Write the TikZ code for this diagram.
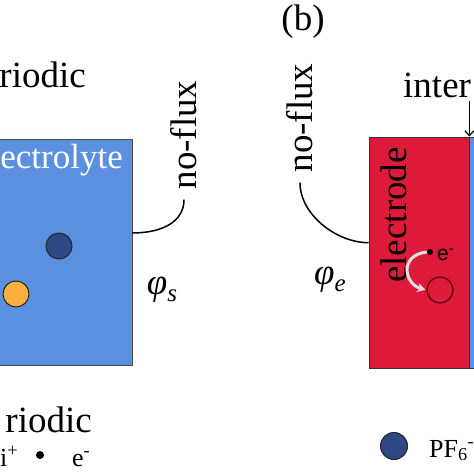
\documentclass[tikz,border=0pt]{standalone}
\usepackage{amsmath}
\usepackage{fontspec}
\setmainfont{Liberation Serif}
\newfontfamily\arialfont{Liberation Sans}
\usetikzlibrary{positioning, arrows.meta}
\definecolor{elyte}{RGB}{91,143,224}
\definecolor{elode}{RGB}{222,26,58}
\definecolor{liion}{RGB}{251,176,64}
\definecolor{anion}{RGB}{47,71,130}
\definecolor{vacred}{RGB}{100,0,16}
\newcommand{\lowsub}[1]{\raisebox{-7pt}{\fontsize{25}{28}\selectfont #1}}

\begin{document}
\begin{tikzpicture}[x=1pt,y=-1pt]
\tikzstyle{every node}=[inner sep=0pt, font=\fontsize{37}{42}\selectfont];
\tikzstyle{ion}=[draw=black!85, line width=1pt, shape=circle, minimum size=26pt];
\tikzstyle{cell}=[draw=black!70, line width=0.8pt, shape=rectangle];
\tikzstyle{small}=[font=\fontsize{26}{30}\selectfont];
\useasboundingbox (0,0) rectangle (474,474);
\clip (0,0) rectangle (474,474);
% panel (a)
\path (56,252) node[cell, fill=elyte, minimum width=152pt, minimum height=226pt] (elyte) {};
\path (123,168) node[anchor=base east, text=white, font=\fontsize{35}{40}\selectfont] (elytxt) {ectrolyte};
\path (86,87) node[anchor=base east] (pertop) {riodic};
\path (92,432) node[anchor=base east] (perbot) {riodic};
\path (184,135) node[rotate=90, inner sep=10pt] (nfa) {no-flux};
\path (162,290) node (phis) {\itshape φ\lowsub{s}};
\path (59,246) node[ion, fill=anion] (pfa) {};
\path (16,294) node[ion, fill=liion] (lia) {};
\draw[line width=1.5pt] (elyte.14) .. controls +(30,0) and +(0,22) .. (nfa.west);
% panel (b)
\path (303,22) node (lblb) {(b)};
\path (300,118) node[rotate=90, inner sep=10pt] (nfb) {no-flux};
\path (330,280) node (phie) {\itshape φ\lowsub{e}};
\path (485,252.5) node[cell, draw=black!80, fill=elyte, minimum width=32pt, minimum height=231pt] (elyteb) {};
\path (419,252.5) node[cell, draw=black!80, fill=elode, minimum width=100pt, minimum height=231pt] (elode) {};
\draw[line width=1.5pt] (nfb.west) .. controls +(0,32) and +(-32,0) .. (elode.169);
\path (394,215) node[rotate=90] (elodetxt) {electrode};
\path (403,97) node[anchor=base west] (itf) {inter};
\draw[-{Straight Barb[length=5pt,width=9pt]}, line width=1.2pt] (elode.north east |- itf.south) ++(0,3) -- (elode.north east);
% electron hopping to the vacancy
\path (430,252) node[circle, fill=black, minimum size=6pt] (edot) {};
\path (437,255) node[anchor=west, font=\arialfont\fontsize{21}{24}\selectfont] (elab) {e\textsuperscript{-}};
\path (440,290) node[ion, draw=vacred, line width=1.3pt] (vac) {};
\draw[white!88!black, line width=3pt, -{Stealth[length=8pt,width=9pt]}, shorten >=1pt] (edot.west) .. controls +(-28,3) and +(-22,-6) .. (vac.west);
% legend
\path (0,466) node[anchor=base west, small] (lilab) {i\textsuperscript{+}};
\path (40,455) node[circle, fill=black, minimum size=8pt] (ebul) {};
\path (72,466) node[anchor=base west, small] (elg) {e\textsuperscript{-}};
\path (394,446) node[ion, fill=anion, minimum size=27pt] (pfleg) {};
\path (429,457) node[anchor=base west, font=\fontsize{26}{30}\selectfont] (pflab) {PF\textsubscript{6}\textsuperscript{-}};
\end{tikzpicture}
\end{document}
